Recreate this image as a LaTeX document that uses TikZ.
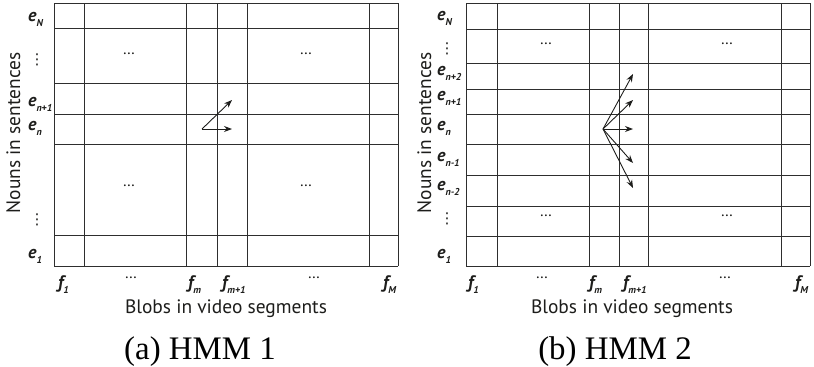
\documentclass[tikz,border=0pt]{standalone}
\usepackage{fontspec}
\setmainfont{PT Sans}
\newfontfamily\capfont{Liberation Serif}
\newfontfamily\symfont{DejaVu Sans}
\usetikzlibrary{arrows.meta}
\definecolor{ink}{HTML}{1D1D1B}
\definecolor{gridc}{HTML}{2E2E2E}
\newcommand{\esub}[2]{#1\raisebox{-5bp}{\fontsize{10}{10}\selectfont #2}}
\tikzset{
  cellline/.style={draw=gridc, line width=0.9pt},
  idx/.style={anchor=base west, inner sep=0pt, text=ink, font=\fontsize{18}{18}\selectfont\bfseries\itshape},
  vdot/.style={inner sep=0pt, text=ink, font=\symfont\fontsize{15}{15}\selectfont},
  hdot/.style={inner sep=0pt, text=ink, font=\fontsize{16}{16}\selectfont},
  axis/.style={anchor=base, inner sep=0pt, text=ink, font=\fontsize{19.5}{19.5}\selectfont},
  capt/.style={anchor=base, inner sep=0pt, text=black, font=\capfont\fontsize{33}{33}\selectfont},
  arr/.style={-{Stealth[length=8bp,width=6bp]}, line width=0.9pt, draw=ink},
}
\begin{document}
\begin{tikzpicture}[x=1bp, y=-1bp]
  \useasboundingbox (0,0) rectangle (814,366);

  % (a) HMM 1
  \foreach \x in {54,84,186,217,247,369,398} \draw[cellline] (\x,3) -- (\x,266);
  \foreach \y in {3,28,83,114,144,235,266} \draw[cellline] (54,\y) -- (398,\y);
  \foreach \y/\s/\n in {21/N/aN, 106/n+1/anp, 130/n/an, 258/1/aone}
    \node[idx] (\n) at (28,\y) {\esub{e}{\s}};
  \node[vdot] (avt) at (37,60) {⋮};
  \node[vdot] (avb) at (37,220) {⋮};
  \foreach \x/\y/\n in {129/54/ad1, 306/54/ad2, 129/186/ad3, 306/186/ad4}
    \node[hdot] (\n) at (\x,\y) {\ldots};
  \foreach \x/\s/\n in {58/1/af1, 188/m/afm, 222/m+1/afmp, 383/M/afM}
    \node[idx] (\n) at (\x,288) {\esub{f}{\s}};
  \node[hdot] (adf1) at (131,278) {\ldots};
  \node[hdot] (adf2) at (314,278) {\ldots};
  \node[axis, rotate=90] (anoun) at (20,133) {Nouns in sentences};
  \node[axis] (ablob) at (226,313) {Blobs in video segments};
  \node[capt] (acap) at (200,359) {(a) HMM 1};
  \coordinate (asrc) at (202,129);
  \coordinate (at1) at (232,100);
  \coordinate (at2) at (232,129);
  \foreach \t in {at1,at2} \draw[arr] (asrc) -- (\t);

  % (b) HMM 2
  \foreach \x in {466,497,589,619,648,781,810} \draw[cellline] (\x,3) -- (\x,266);
  \foreach \y in {3,29,63,89,114,144,175,206,236,266} \draw[cellline] (466,\y) -- (810,\y);
  \foreach \y/\s/\n in {20/N/bN, 75/n+2/bnpp, 100/n+1/bnp, 130/n/bn, 161/n-1/bnm, 190/n-2/bnmm, 258/1/bone}
    \node[idx] (\n) at (437,\y) {\esub{e}{\s}};
  \node[vdot] (bvt) at (447,49) {⋮};
  \node[vdot] (bvb) at (447,219) {⋮};
  \foreach \x/\y/\n in {546/44/bd1, 727/44/bd2, 546/216/bd3, 727/216/bd4}
    \node[hdot] (\n) at (\x,\y) {\ldots};
  \foreach \x/\s/\n in {468/1/bf1, 589/m/bfm, 623/m+1/bfmp, 795/M/bfM}
    \node[idx] (\n) at (\x,288) {\esub{f}{\s}};
  \node[hdot] (bdf1) at (542,278) {\ldots};
  \node[hdot] (bdf2) at (725,278) {\ldots};
  \node[axis, rotate=90] (bnoun) at (431,133) {Nouns in sentences};
  \node[axis] (bblob) at (632,313) {Blobs in video segments};
  \node[capt] (bcap) at (615,359) {(b) HMM 2};
  \coordinate (bsrc) at (603,129);
  \foreach \y/\n in {74/bt1, 100/bt2, 129/bt3, 163/bt4, 188/bt5}
    \coordinate (\n) at (633,\y);
  \foreach \t in {bt1,bt2,bt3,bt4,bt5} \draw[arr] (bsrc) -- (\t);
\end{tikzpicture}
\end{document}
